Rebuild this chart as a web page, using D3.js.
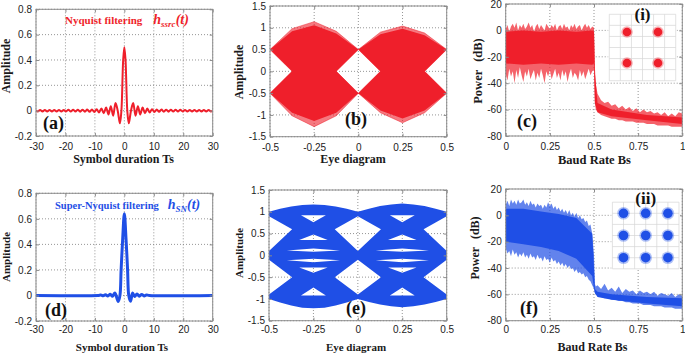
<!DOCTYPE html>
<html>
<head>
<meta charset="utf-8">
<title>Nyquist vs super-Nyquist filtering</title>
<script src="https://cdn.jsdelivr.net/npm/d3@7/dist/d3.min.js"></script>
<style>
	body { margin: 0; background: #fff; overflow: hidden; }
	svg { display: block; }
	.grid { stroke: #7a7a7a; stroke-width: 0.8; stroke-dasharray: 1,2; }
	.frame { fill: none; stroke: #8c8c8c; stroke-width: 1; }
	.axis line { stroke: #8c8c8c; }
	.axis text { font-family: "Liberation Sans", Arial, sans-serif; font-size: 10px; fill: #222; }
	.label { font-family: "Liberation Serif", "Times New Roman", serif; font-weight: bold; fill: #1a1a1a; }
	.tag { font-family: "Liberation Serif", "Times New Roman", serif; font-weight: bold; font-size: 18px; fill: #111; }
</style>
</head>
<body>
<div id="chart"></div>
<script>
/* global d3 */
'use strict';

var RED = '#ef1f2b',
	BLUE = '#1f4fe6';

// tick values
var timeTicks 	= [-30, -20, -10, 0, 10, 20, 30],
	ampTicks 	= [-0.2, 0, 0.2, 0.4, 0.6, 0.8],
	eyeTicks 	= [-0.5, -0.25, 0, 0.25, 0.5],
	eyeAmpTicks = [-1.5, -1, -0.5, 0, 0.5, 1, 1.5],
	baudTicks 	= [0, 0.25, 0.5, 0.75, 1],
	powerTicks 	= [-80, -60, -40, -20, 0, 20],
	constTicks 	= [-1.5, -1, -0.5, 0, 0.5, 1, 1.5];

// (a) Nyquist impulse response h_ssrc(t), read at its turning points
var nyqT = [-30, -29.4, -28.6, -27.8, -27, -26.2, -25.4, -24.6, -23.8, -23, -22.2, -21.4, -20.6, -19.8, -19, -18.2, -17.4, -16.6, -15.8, -15, -14.2, -13.4, -12.6, -11.8, -11, -10.2, -9.4, -8.6, -7.8, -7, -6.2, -5.4, -4.6, -3.8, -3, -2.25, -1.5, -1, -0.4,
	0, 0.4, 1, 1.5, 2.25, 3, 3.8, 4.6, 5.4, 6.2, 7, 7.8, 8.6, 9.4, 10.2, 11, 11.8, 12.6, 13.4, 14.2, 15, 15.8, 16.6, 17.4, 18.2, 19, 19.8, 20.6, 21.4, 22.2, 23, 23.8, 24.6, 25.4, 26.2, 27, 27.8, 28.6, 29.4, 30];
var nyqH = [0, -0.006, 0.006, -0.006, 0.006, -0.006, 0.006, -0.006, 0.006, -0.006, 0.006, -0.006, 0.006, -0.006, 0.007, -0.007, 0.007, -0.007, 0.007, -0.008, 0.008, -0.008, 0.009, -0.009, 0.01, -0.011, 0.012, -0.014, 0.017, -0.02, 0.025, -0.03, 0.035, -0.04, 0.06, 0, -0.1, 0, 0.4,
	0.5, 0.4, 0, -0.1, 0, 0.06, -0.04, 0.035, -0.03, 0.025, -0.02, 0.017, -0.014, 0.012, -0.011, 0.01, -0.009, 0.009, -0.008, 0.008, -0.008, 0.007, -0.007, 0.007, -0.007, 0.007, -0.006, 0.006, -0.006, 0.006, -0.006, 0.006, -0.006, 0.006, -0.006, 0.006, -0.006, 0.006, -0.006, 0];

// (d) super-Nyquist impulse response h_SN(t)
var snT = [-30, -9, -8, -7.2, -6.4, -5.6, -4.8, -4, -3.2, -2.1, -1.5, -1.1, -0.55, 0, 0.55, 1.1, 1.5, 2.1, 2.8, 3.5, 4.3, 5.1, 5.9, 6.7, 7.5, 8.5, 30];
var snH = [0, 0, 0.003, -0.003, 0.006, -0.005, 0.01, -0.006, 0.02, -0.047, 0, 0.2, 0.45, 0.64, 0.45, 0.2, 0, -0.045, 0.02, -0.008, 0.012, -0.006, 0.008, -0.004, 0.004, 0, 0];

// (b) Nyquist eye: envelope at the sample instants and where the eyes close on zero
var eyeX 			= [-0.5, -0.375, -0.25, -0.125, 0, 0.125, 0.25, 0.375, 0.5];
var nyqEyeHi 		= [0.5, 0.98, 1.14, 0.92, 0.5, 0.9, 1.04, 0.88, 0.5];
var nyqEyeLo 		= [-0.5, -1.02, -1.27, -1.02, -0.5, -0.95, -1.18, -0.95, -0.5];
var nyqEyeHiCore 	= [0.5, 0.92, 1.06, 0.87, 0.5, 0.85, 0.98, 0.83, 0.5];
var nyqEyeLoCore 	= [-0.5, -0.95, -1.14, -0.95, -0.5, -0.9, -1.08, -0.9, -0.5];
var nyqEyeOpen 		= [-0.375, -0.125, 0.125, 0.375];

// (e) super-Nyquist eye: outer envelope and the open (white) areas
var snEyeX 	= [-0.5, -0.4375, -0.375, -0.3125, -0.25, -0.1875, -0.125, -0.0625, 0, 0.0625, 0.125, 0.1875, 0.25, 0.3125, 0.375, 0.4375, 0.5];
var snEyeHi = [1, 1.07, 1.12, 1.155, 1.17, 1.155, 1.12, 1.07, 1, 1.07, 1.13, 1.17, 1.19, 1.17, 1.13, 1.07, 1];
var snEyeLo = [-1, -1.08, -1.15, -1.2, -1.215, -1.2, -1.15, -1.08, -1, -1.07, -1.13, -1.17, -1.19, -1.17, -1.13, -1.07, -1];
var snEyeHoles = [
	[[-0.5, 0.9], [-0.37, 0.6], [-0.5, 0.1]],
	[[-0.5, -0.1], [-0.37, -0.5], [-0.5, -0.9]],
	[[0, 0.9], [-0.13, 0.6], [0, 0.1], [0.13, 0.6]],
	[[0, -0.1], [-0.13, -0.5], [0, -0.9], [0.13, -0.5]],
	[[0.5, 0.9], [0.37, 0.6], [0.5, 0.1]],
	[[0.5, -0.1], [0.37, -0.5], [0.5, -0.9]],
	[[-0.32, 0.92], [-0.18, 0.92], [-0.25, 0.76]],
	[[-0.25, 0.48], [-0.17, 0.35], [-0.33, 0.35]],
	[[-0.4, 0.11], [-0.25, 0.16], [-0.1, 0.11], [-0.25, 0.08]],
	[[-0.4, -0.11], [-0.25, -0.08], [-0.1, -0.11], [-0.25, -0.16]],
	[[-0.25, -0.4], [-0.17, -0.28], [-0.33, -0.28]],
	[[-0.32, -0.92], [-0.18, -0.92], [-0.25, -0.74]],
	[[0.18, 0.92], [0.32, 0.92], [0.25, 0.76]],
	[[0.25, 0.48], [0.33, 0.35], [0.17, 0.35]],
	[[0.1, 0.11], [0.25, 0.16], [0.4, 0.11], [0.25, 0.08]],
	[[0.1, -0.11], [0.25, -0.08], [0.4, -0.11], [0.25, -0.16]],
	[[0.25, -0.4], [0.33, -0.28], [0.17, -0.28]],
	[[0.18, -0.92], [0.32, -0.92], [0.25, -0.74]]
];

// (c), (f) spectra: spike envelope (dB) and dense core
var specF = [0, 0.01, 0.02, 0.03, 0.04, 0.05, 0.06, 0.07, 0.08, 0.09, 0.1, 0.11, 0.12, 0.13, 0.14, 0.15, 0.16, 0.17, 0.18, 0.19, 0.2, 0.21, 0.22, 0.23, 0.24,
	0.25, 0.26, 0.27, 0.28, 0.29, 0.3, 0.31, 0.32, 0.33, 0.34, 0.35, 0.36, 0.37, 0.38, 0.39, 0.4, 0.41, 0.42, 0.43, 0.44, 0.45, 0.46, 0.47, 0.48, 0.49,
	0.5, 0.505, 0.51,
	0.52, 0.54, 0.56, 0.58, 0.6, 0.62, 0.64, 0.66, 0.68, 0.7, 0.72, 0.74, 0.76, 0.78, 0.8, 0.82, 0.84, 0.86, 0.88, 0.9, 0.92, 0.94, 0.96, 0.98, 1];
var nyqSpecHi = [1, 4, -1, 3, 5, 2, 6, 0, 4, 2, 5, 1, 3, 6, 2, 4, -1, 3, 5, 1, 4, 2, 0, 5, 3,
	1, 4, 2, 5, 0, 3, 4, 1, 5, 2, 3, 0, 4, 2, 5, 1, 3, 4, 0, 3, 5, 2, 4, 1, 3,
	2, -28, -40,
	-48, -53, -55, -54, -57, -56, -59, -57, -60, -58, -61, -59, -62, -60, -62, -61, -63, -62, -64, -62, -65, -63, -65, -62, -63];
var nyqSpecLo = [-33, -38, -29, -35, -31, -40, -30, -36, -28, -34, -39, -31, -35, -29, -37, -33, -30, -38, -32, -36, -29, -34, -40, -31, -35,
	-30, -37, -33, -29, -36, -32, -38, -30, -35, -31, -39, -33, -29, -36, -32, -34, -38, -30, -35, -31, -37, -33, -29, -34, -31,
	-30, -55, -60,
	-62, -64, -65, -66, -67, -67, -68, -68, -69, -69, -69, -70, -70, -70, -71, -71, -71, -72, -72, -72, -72, -73, -73, -73, -73];
var snSpecHi = [8, 11, 7, 12, 9, 11, 8, 12, 9, 10, 12, 8, 10, 7, 11, 8, 9, 6, 9, 7, 8, 5, 8, 6, 10,
	7, 9, 5, 7, 4, 6, 3, 5, 2, 4, 1, 4, 0, 2, -1, 2, -2, 0, -3, -2, -5, -4, -8, -7, -14,
	-30, -52, -54,
	-53, -56, -52, -57, -55, -58, -54, -59, -56, -58, -57, -60, -57, -59, -58, -60, -58, -61, -59, -60, -61, -59, -62, -60, -61];
var snSpecLo = [-25, -29, -27, -31, -26, -30, -28, -32, -29, -31, -28, -32, -30, -33, -29, -32, -31, -34, -30, -33, -32, -35, -31, -34, -33,
	-36, -32, -35, -34, -37, -35, -38, -36, -39, -37, -40, -38, -41, -40, -43, -41, -44, -43, -45, -44, -47, -46, -49, -50, -53,
	-56, -59, -60,
	-61, -62, -63, -63, -64, -64, -65, -65, -66, -66, -67, -67, -67, -68, -68, -68, -69, -69, -69, -70, -70, -70, -71, -71, -71];

var coreF 		= [0, 0.1, 0.2, 0.3, 0.4, 0.49, 0.5, 0.505, 0.52, 0.6, 0.8, 1];
var nyqCoreHi 	= [-1, 0, -1, 0, -1, 0, -1, -32, -55, -60, -64, -66];
var nyqCoreLo 	= [-25, -26, -25, -26, -25, -26, -25, -55, -62, -65, -68, -71];
var snCoreHi 	= [5, 5, 3, 1, -2, -14, -40, -56, -58, -60, -62, -63];
var snCoreLo 	= [-20, -22, -24, -27, -33, -46, -55, -59, -62, -64, -67, -69];

// constellations of the insets
var qpskI = [-0.7, 0.7, -0.7, 0.7],
	qpskQ = [0.7, 0.7, -0.7, -0.7];
var nineI = [-1, 0, 1, -1, 0, 1, -1, 0, 1],
	nineQ = [1, 1, 1, 0, 0, 0, -1, -1, -1];


var svg 	= d3.select('#chart').append('svg').attr('width', 685).attr('height', 353),
	defs 	= svg.append('defs'),
	fmt 	= function (d) { return String(d); };

function buildPanel (name, box, xDomain, yDomain, xTicks, yTicks, pad) {
	var p = {
		box: box,
		x: d3.scaleLinear().domain(xDomain).range([box.l, box.r]),
		y: d3.scaleLinear().domain(yDomain).range([box.b, box.t])
	};
	var g = svg.append('g');

	defs.append('clipPath').attr('id', 'clip-' + name)
		.append('rect')
			.attr('x', box.l).attr('y', box.t)
			.attr('width', box.r - box.l).attr('height', box.b - box.t);

	var grid = g.append('g');
	grid.selectAll('.gx').data(xTicks).enter().append('line')
		.attr('class', 'grid')
		.attr('x1', p.x).attr('x2', p.x)
		.attr('y1', box.t).attr('y2', box.b);
	grid.selectAll('.gy').data(yTicks).enter().append('line')
		.attr('class', 'grid')
		.attr('y1', p.y).attr('y2', p.y)
		.attr('x1', box.l).attr('x2', box.r);

	p.plot = g.append('g').attr('clip-path', 'url(#clip-' + name + ')');

	var frame = g.append('g');
	frame.append('rect').attr('class', 'frame')
		.attr('x', box.l).attr('y', box.t)
		.attr('width', box.r - box.l).attr('height', box.b - box.t);

	frame.append('g').attr('class', 'axis')
		.attr('transform', 'translate(0,' + box.b + ')')
		.call(d3.axisBottom(p.x).tickValues(xTicks).tickFormat(fmt).tickSizeInner(-3).tickSizeOuter(0).tickPadding(pad));
	frame.append('g').attr('class', 'axis')
		.attr('transform', 'translate(' + box.l + ',0)')
		.call(d3.axisLeft(p.y).tickValues(yTicks).tickFormat(fmt).tickSizeInner(-3).tickSizeOuter(0).tickPadding(4));
	frame.append('g').attr('class', 'axis')
		.attr('transform', 'translate(0,' + box.t + ')')
		.call(d3.axisTop(p.x).tickValues(xTicks).tickFormat('').tickSizeInner(-3).tickSizeOuter(0));
	frame.append('g').attr('class', 'axis')
		.attr('transform', 'translate(' + box.r + ',0)')
		.call(d3.axisRight(p.y).tickValues(yTicks).tickFormat('').tickSizeInner(-3).tickSizeOuter(0));
	frame.selectAll('.domain').remove();

	return p;
}

function axisLabels (xText, xc, xBase, yText, yc, ycy, size) {
	svg.append('text').attr('class', 'label')
		.attr('x', xc).attr('y', xBase)
		.attr('text-anchor', 'middle')
		.style('font-size', size + 'px')
		.text(xText);
	return svg.append('text').attr('class', 'label')
		.attr('transform', 'translate(' + yc + ',' + ycy + ') rotate(-90)')
		.attr('text-anchor', 'middle')
		.attr('dy', '0.35em')
		.style('font-size', size + 'px')
		.text(yText);
}

function tag (text, x, y, size) {
	return svg.append('text').attr('class', 'tag')
		.attr('x', x).attr('y', y)
		.style('font-size', (size || 18) + 'px')
		.text(text);
}

function filterTitle (x, y, color, name, sub, size, gap) {
	var t = svg.append('text').attr('class', 'label')
		.attr('x', x).attr('y', y)
		.style('fill', color);
	t.append('tspan').style('font-size', size + 'px').text(name);
	t.append('tspan').style('font-size', '14px').style('font-style', 'italic').attr('dx', gap).text('h');
	t.append('tspan').style('font-size', '9px').style('font-style', 'italic').attr('dy', 3).text(sub);
	t.append('tspan').style('font-size', '14px').style('font-style', 'italic').attr('dy', -3).text('(t)');
	return t;
}

function impulse (p, ts, hs, color, width) {
	var line = d3.line()
		.curve(d3.curveCatmullRom.alpha(0.5))
		.x(function (d) { return p.x(d[0]); })
		.y(function (d) { return p.y(d[1]); });
	p.plot.append('path')
		.datum(d3.zip(ts, hs))
		.attr('d', line)
		.attr('fill', 'none')
		.attr('stroke', color)
		.attr('stroke-width', width)
		.attr('stroke-linejoin', 'round');
}

function spectrum (p, hi, lo, coreHi, coreLo, color) {
	var area = d3.area()
		.x(function (d) { return p.x(d[0]); })
		.y0(function (d) { return p.y(d[2]); })
		.y1(function (d) { return p.y(d[1]); });
	p.plot.append('path')
		.datum(d3.zip(specF, hi, lo))
		.attr('d', area)
		.attr('fill', color)
		.attr('fill-opacity', 0.7);
	p.plot.append('path')
		.datum(d3.zip(coreF, coreHi, coreLo))
		.attr('d', area)
		.attr('fill', color);
}

function constellation (box, is, qs, color, r, label) {
	var x = d3.scaleLinear().domain([-1.5, 1.5]).range([box.l, box.r]),
		y = d3.scaleLinear().domain([-1.5, 1.5]).range([box.b, box.t]),
		g = svg.append('g');

	g.append('rect')
		.attr('x', box.l - 1).attr('y', box.top)
		.attr('width', box.r - box.l + 2).attr('height', box.b - box.top + 1)
		.attr('fill', '#fff');
	g.selectAll('.cx').data(constTicks).enter().append('line')
		.attr('x1', x).attr('x2', x).attr('y1', box.t).attr('y2', box.b)
		.attr('stroke', '#d6d6d6').attr('stroke-width', 0.7);
	g.selectAll('.cy').data(constTicks).enter().append('line')
		.attr('y1', y).attr('y2', y).attr('x1', box.l).attr('x2', box.r)
		.attr('stroke', '#d6d6d6').attr('stroke-width', 0.7);

	var pts = d3.zip(is, qs);
	g.selectAll('.halo').data(pts).enter().append('circle')
		.attr('cx', function (d) { return x(d[0]); })
		.attr('cy', function (d) { return y(d[1]); })
		.attr('r', r + 1.5)
		.attr('fill', color).attr('fill-opacity', 0.35);
	g.selectAll('.dot').data(pts).enter().append('circle')
		.attr('cx', function (d) { return x(d[0]); })
		.attr('cy', function (d) { return y(d[1]); })
		.attr('r', r)
		.attr('fill', color);

	g.append('text').attr('class', 'tag')
		.attr('x', x(0)).attr('y', box.tagY)
		.attr('text-anchor', 'middle')
		.style('font-size', '17px')
		.text(label);
}

// ---- panels ----
var pa = buildPanel('a', {l: 36, r: 212.7, t: 9.3, b: 136}, [-30, 30], [-0.2, 0.8], timeTicks, ampTicks, 7),
	pb = buildPanel('b', {l: 270, r: 446.7, t: 6, b: 136.7}, [-0.5, 0.5], [-1.5, 1.5], eyeTicks, eyeAmpTicks, 7),
	pc = buildPanel('c', {l: 505.7, r: 682.3, t: 4, b: 136}, [0, 1], [-80, 20], baudTicks, powerTicks, 7),
	pd = buildPanel('d', {l: 36, r: 212.7, t: 193.3, b: 321}, [-30, 30], [-0.2, 0.8], timeTicks, ampTicks, 5),
	pe = buildPanel('e', {l: 269, r: 446.7, t: 190, b: 320.7}, [-0.5, 0.5], [-1.5, 1.5], eyeTicks, eyeAmpTicks, 5),
	pf = buildPanel('f', {l: 505.7, r: 682.3, t: 189, b: 320.7}, [0, 1], [-80, 20], baudTicks, powerTicks, 5);

// impulse responses
impulse(pa, nyqT, nyqH, RED, 2);
impulse(pd, snT, snH, BLUE, 3);

// Nyquist eye, one bow-tie per symbol half
function nyqEyeShape (hi, lo, s) {
	var i0 = s * 4, pts = [], i;
	for (i = i0; i <= i0 + 4; i++) { pts.push([eyeX[i], hi[i]]); }
	pts.push([nyqEyeOpen[s * 2 + 1], 0]);
	for (i = i0 + 4; i >= i0; i--) { pts.push([eyeX[i], lo[i]]); }
	pts.push([nyqEyeOpen[s * 2], 0]);
	return pts;
}
var bLine = d3.line()
	.x(function (d) { return pb.x(d[0]); })
	.y(function (d) { return pb.y(d[1]); });
[0, 1].forEach(function (s) {
	pb.plot.append('path').attr('d', bLine(nyqEyeShape(nyqEyeHi, nyqEyeLo, s)) + 'Z')
		.attr('fill', RED).attr('fill-opacity', 0.6)
		.attr('stroke', RED).attr('stroke-opacity', 0.7).attr('stroke-width', 0.7);
	pb.plot.append('path').attr('d', bLine(nyqEyeShape(nyqEyeHiCore, nyqEyeLoCore, s)) + 'Z')
		.attr('fill', RED);
});

// super-Nyquist eye, hull with the eye openings cut out
var eLine = d3.line()
	.x(function (d) { return pe.x(d[0]); })
	.y(function (d) { return pe.y(d[1]); });
var hull = d3.zip(snEyeX, snEyeHi).concat(d3.zip(snEyeX, snEyeLo).reverse());
pe.plot.append('path')
	.attr('d', eLine(hull) + 'Z' + snEyeHoles.map(function (h) { return eLine(h) + 'Z'; }).join(''))
	.attr('fill', BLUE)
	.attr('fill-rule', 'evenodd');

// spectra
spectrum(pc, nyqSpecHi, nyqSpecLo, nyqCoreHi, nyqCoreLo, RED);
spectrum(pf, snSpecHi, snSpecLo, snCoreHi, snCoreLo, BLUE);

// constellation insets
constellation({l: 609.3, r: 675.7, t: 14.3, b: 80.7, top: 5, tagY: 20}, qpskI, qpskQ, RED, 4.3, '(i)');
constellation({l: 612.4, r: 679, t: 202.2, b: 268.8, top: 190, tagY: 204}, nineI, nineQ, BLUE, 4.8, '(ii)');

// axis titles
axisLabels('Symbol duration Ts', 123.5, 163, 'Amplitude', 6, 66, 12);
axisLabels('Eye diagram', 353, 163, 'Amplitude', 239, 72, 12);
axisLabels('Baud Rate Bs', 594.5, 164, 'Power (dB)', 478, 71, 12.5).style('word-spacing', '5px');
axisLabels('Symbol duration Ts', 122, 350.5, 'Amplitude', 6, 257, 11);
axisLabels('Eye diagram', 356, 350.5, 'Amplitude', 239, 253, 11);
axisLabels('Baud Rate Bs', 592.5, 350.5, 'Power (dB)', 475, 248, 12).style('word-spacing', '5px');

// filter names
filterTitle(65, 24, RED, 'Nyquist filtering', 'ssrc', 11, 11);
filterTitle(55, 209, BLUE, 'Super-Nyquist filtering', 'SN', 10.5, 9);

// panel letters
tag('(a)', 43, 129);
tag('(b)', 345, 125);
tag('(c)', 517, 127);
tag('(d)', 45, 316);
tag('(e)', 346, 314);
tag('(f)', 520, 314);
</script>
</body>
</html>
